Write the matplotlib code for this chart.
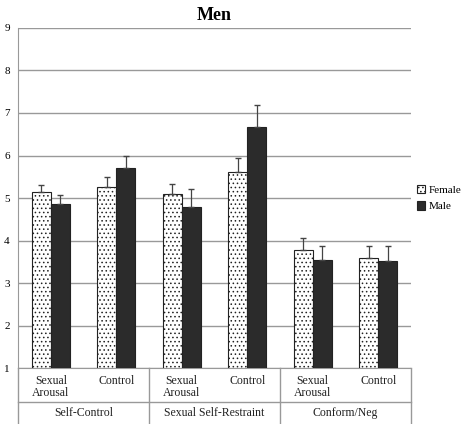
import matplotlib.pyplot as plt
import numpy as np

groups = ["Self-Control", "Sexual Self-Restraint", "Conform/Neg"]
subs = ["Sexual\nArousal", "Control"] * 3
female = [5.15, 5.25, 5.1, 5.62, 3.77, 3.58]
male = [4.85, 5.7, 4.8, 6.67, 3.53, 3.52]
female_err = [0.15, 0.25, 0.22, 0.31, 0.28, 0.29]
male_err = [0.23, 0.3, 0.42, 0.51, 0.34, 0.35]

plt.rcParams['font.family'] = ['Liberation Serif', 'DejaVu Serif']
plt.rcParams['hatch.linewidth'] = 0.6
plt.rcParams['hatch.color'] = '#555555'
fig = plt.figure(figsize=(4.74, 4.24), dpi=100)
ax = fig.add_axes([0.038, 0.132, 0.829, 0.802])
x = np.arange(len(female))
w = 0.29
ax.bar(x - w/2, np.array(female) - 1, w, bottom=1, color='white', edgecolor='#222222',
       hatch='....', linewidth=0.8, label='Female', zorder=3)
ax.bar(x + w/2, np.array(male) - 1, w, bottom=1, color='#2b2b2b', edgecolor='#222222',
       linewidth=0.8, label='Male', zorder=3)
ax.errorbar(x - w/2, female, yerr=[np.zeros(6), female_err], fmt='none', ecolor='#444444',
            elinewidth=0.9, capsize=2.5, zorder=4)
ax.errorbar(x + w/2, male, yerr=[np.zeros(6), male_err], fmt='none', ecolor='#444444',
            elinewidth=0.9, capsize=2.5, zorder=4)
ax.set_xlim(-0.5, 5.5)
ax.set_ylim(1, 9)
ax.set_yticks(range(1, 10))
ax.yaxis.grid(True, color='#999999', linewidth=1, zorder=0)
for s in ['top', 'right']:
    ax.spines[s].set_visible(False)
ax.spines['left'].set_color('#999999')
ax.spines['bottom'].set_color('#999999')
ax.tick_params(axis='y', length=0, labelsize=8, pad=6)
ax.set_xticks([])
for i, s in enumerate(subs):
    ax.text(i, -0.02, s, transform=ax.get_xaxis_transform(), ha='center', va='top', fontsize=8.5,
            linespacing=1.0, color='#222222')
for g, name in enumerate(groups):
    ax.text(2*g + 0.5, -0.133, name, transform=ax.get_xaxis_transform(), ha='center', va='center',
            fontsize=8.5, color='#222222')
for xb in [-0.5, 1.5, 3.5, 5.5]:
    ax.plot([xb, xb], [0, -0.2], transform=ax.get_xaxis_transform(), color='#999999',
            linewidth=1, clip_on=False)
ax.plot([-0.5, 5.5], [-0.1, -0.1], transform=ax.get_xaxis_transform(), color='#999999',
        linewidth=1, clip_on=False)
ax.set_title("Men", fontsize=13, fontweight='bold', pad=6)
ax.legend(loc='center left', bbox_to_anchor=(1.0, 0.5), frameon=False, fontsize=8,
          handlelength=0.8, handleheight=0.8, handletextpad=0.3, labelspacing=0.6, borderaxespad=0.1)
fig.savefig('out.png', dpi=100)
